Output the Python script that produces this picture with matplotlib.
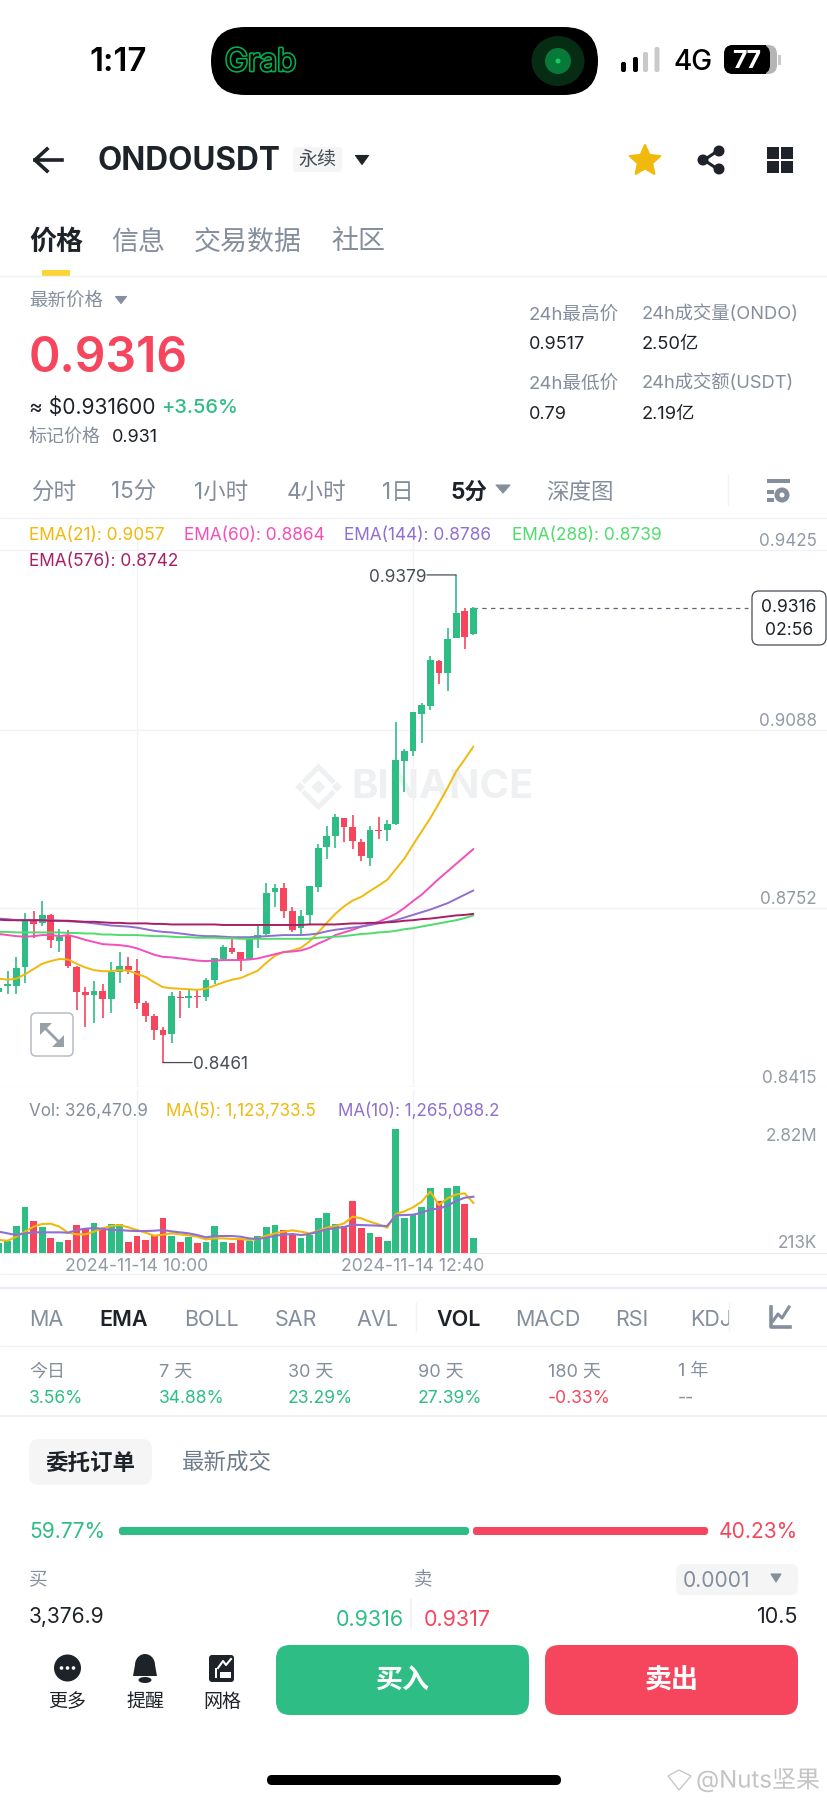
import numpy as np
import matplotlib
matplotlib.use("Agg")
import matplotlib.pyplot as plt
import matplotlib.patheffects as pe
from matplotlib.patches import FancyBboxPatch, Polygon, Circle, Ellipse, Rectangle

plt.rcParams['font.family'] = ['Inter', 'Noto Sans CJK SC', 'DejaVu Sans']

# 5 minute candles, ONDOUSDT
opens = [.8593, .8606, .8606, .8641, .8729, .8723, .8739, .8690, .8702, .8641, .8593, .8588, .8595, .8580,
         .8632, .8642, .8633, .8574, .8548, .8522, .8514, .8585, .8583, .8587, .8585, .8616, .8656, .8677,
         .8669, .8655, .8695, .8703, .8783, .8790, .8746, .8714, .8738, .8791, .8866, .8887, .8921, .8904,
         .8877, .8847, .8899, .8899, .8911, .9029, .9048, .9118, .9133, .9217, .9194, .9260, .9311, .9267]
highs = [.8608, .8634, .8659, .8743, .8746, .8765, .8741, .8712, .8711, .8642, .8603, .8614, .8608, .8650,
         .8669, .8660, .8656, .8577, .8553, .8528, .8593, .8595, .8597, .8597, .8620, .8658, .8683, .8697,
         .8669, .8697, .8718, .8799, .8798, .8799, .8754, .8749, .8794, .8872, .8907, .8929, .8921, .8927,
         .8882, .8906, .8923, .8918, .9102, .9052, .9121, .9138, .9227, .9219, .9279, .9379, .9316, .9318]
lows = [.8567, .8591, .8591, .8610, .8696, .8719, .8677, .8670, .8639, .8560, .8528, .8536, .8544, .8555,
        .8611, .8628, .8561, .8537, .8504, .8461, .8498, .8545, .8563, .8563, .8577, .8608, .8654, .8666,
        .8633, .8654, .8676, .8702, .8754, .8733, .8706, .8700, .8721, .8782, .8845, .8865, .8876, .8863,
        .8840, .8831, .8882, .8879, .8909, .8971, .9039, .9062, .9124, .9174, .9160, .9260, .9240, .9265]
closes = [.8602, .8609, .8639, .8729, .8721, .8739, .8692, .8697, .8642, .8593, .8588, .8595, .8580, .8632,
          .8642, .8636, .8573, .8548, .8523, .8512, .8586, .8582, .8587, .8585, .8616, .8657, .8678, .8669,
          .8655, .8697, .8701, .8780, .8790, .8747, .8711, .8736, .8794, .8865, .8887, .8923, .8904, .8879,
          .8850, .8899, .8897, .8911, .9031, .9047, .9121, .9135, .9218, .9194, .9258, .9308, .9263, .9316]

ema21 = [.8619, .8617, .8619, .8627, .8637, .8647, .8652, .8656, .8655, .8647, .8640, .8635, .8633, .8633,
         .8635, .8634, .8628, .8622, .8612, .8603, .8601, .8600, .8599, .8598, .8600, .8606, .8612, .8617,
         .8620, .8627, .8634, .8649, .8662, .8669, .8672, .8677, .8689, .8706, .8724, .8741, .8755, .8766,
         .8773, .8784, .8794, .8805, .8825, .8845, .8871, .8896, .8921, .8949, .8978, .9009, .9032, .9056]
ema60 = [.8703, .8701, .8699, .8698, .8699, .8701, .8701, .8699, .8701, .8697, .8692, .8688, .8684, .8683,
         .8682, .8680, .8676, .8670, .8664, .8660, .8659, .8657, .8655, .8653, .8652, .8653, .8654, .8654,
         .8654, .8655, .8657, .8661, .8665, .8669, .8670, .8672, .8677, .8685, .8692, .8701, .8706, .8711,
         .8717, .8721, .8726, .8733, .8741, .8752, .8765, .8777, .8792, .8807, .8821, .8835, .8849, .8863]
ema144 = [.8732, .8731, .8729, .8729, .8729, .8729, .8729, .8728, .8727, .8726, .8725, .8723, .8721, .8719,
          .8718, .8717, .8715, .8712, .8709, .8707, .8706, .8704, .8702, .8700, .8699, .8699, .8698, .8697,
          .8697, .8697, .8698, .8699, .8700, .8701, .8701, .8701, .8702, .8704, .8708, .8711, .8713, .8715,
          .8717, .8720, .8723, .8726, .8729, .8734, .8739, .8744, .8749, .8755, .8761, .8769, .8777, .8785]
ema288 = [.8707, .8707, .8706, .8706, .8706, .8706, .8706, .8706, .8705, .8705, .8704, .8704, .8702, .8702,
          .8701, .8701, .8701, .8700, .8699, .8699, .8698, .8697, .8697, .8696, .8696, .8696, .8695, .8695,
          .8694, .8694, .8694, .8694, .8694, .8694, .8694, .8694, .8694, .8696, .8697, .8698, .8699, .8701,
          .8703, .8704, .8706, .8707, .8709, .8712, .8714, .8717, .8720, .8723, .8726, .8729, .8733, .8738]
ema576 = [.8730, .8729, .8729, .8729, .8729, .8729, .8728, .8728, .8728, .8727, .8726, .8726, .8725, .8724,
          .8724, .8723, .8723, .8723, .8722, .8722, .8721, .8721, .8721, .8721, .8721, .8721, .8720, .8720,
          .8720, .8720, .8720, .8720, .8720, .8720, .8720, .8720, .8721, .8721, .8721, .8721, .8722, .8723,
          .8723, .8724, .8724, .8725, .8726, .8728, .8729, .8731, .8732, .8734, .8736, .8738, .8739, .8741]

# volume in thousands
volume = [211, 264, 603, 1040, 716, 573, 324, 234, 286, 625, 550, 663, 550, 648, 648, 234, 384, 279, 392, 776,
          377, 249, 362, 211, 234, 603, 241, 226, 309, 264, 377, 573, 625, 512, 422, 339, 392, 776, 889, 648,
          603, 1168, 565, 444, 347, 256, 2787, 783, 851, 1040, 1469, 1160, 1469, 1514, 1100, 326]
vol_ma5 = [286, 271, 362, 475, 588, 648, 655, 588, 452, 414, 414, 475, 550, 603, 625, 573, 512, 452, 384, 407,
           437, 414, 392, 362, 301, 324, 324, 309, 309, 286, 309, 384, 437, 475, 505, 475, 437, 490, 565, 603,
           663, 814, 776, 701, 640, 565, 874, 934, 1025, 1153, 1379, 1077, 1228, 1318, 1341, 1124]
vol_ma10 = [475, 437, 399, 437, 460, 460, 460, 460, 452, 512, 542, 557, 542, 512, 512, 497, 490, 490, 497, 512,
            482, 460, 437, 399, 347, 377, 377, 377, 362, 324, 309, 339, 384, 407, 422, 399, 422, 475, 527, 557,
            580, 633, 625, 618, 610, 603, 844, 851, 859, 904, 979, 994, 1062, 1168, 1243, 1265]

price_ticks = [0.9425, 0.9088, 0.8752, 0.8415]
time_ticks = [16, 48]
time_labels = ["2024-11-14 10:00", "2024-11-14 12:40"]
vol_ticks = [2820, 213]
vol_tick_labels = ["2.82M", "213K"]

tabs = ["价格", "信息", "交易数据", "社区"]
intervals = ["分时", "15分", "1小时", "4小时", "1日", "5分", "深度图"]
indicators = ["MA", "EMA", "BOLL", "SAR", "AVL", "VOL", "MACD", "RSI", "KDJ"]
periods = ["今日", "7 天", "30 天", "90 天", "180 天", "1 年"]
period_changes = ["3.56%", "34.88%", "23.29%", "27.39%", "-0.33%", "--"]

GREEN = "#2ebd85"
RED = "#f6465d"
DARK = "#1e2329"
GRAY = "#848e9c"
GRID = "#f1f2f5"
MARK = "#eef0f1"
C21, C60, C144, C288, C576 = "#f0b90b", "#f24fbd", "#8f6fd1", "#4fdc6c", "#a81f66"

W, H = 828, 1800
fig = plt.figure(figsize=(W / 100, H / 100), dpi=100)


def page_axes(z):
    a = fig.add_axes([0, 0, 1, 1], zorder=z)
    a.set_xlim(0, W)
    a.set_ylim(H, 0)
    a.axis("off")
    return a


# full page axes in pixel coordinates: one under the chart for the watermark, one on top for the app chrome
bg = page_axes(0)
ui = page_axes(3)


def txt(x, y, s, px, color=DARK, ha="left", weight="normal", **kw):
    # va=center sits high for these fonts, nudge by a tenth of the size
    return ui.text(x - 1 if ha == "left" else x, y + px * 0.09, s, fontsize=px * 0.72, color=color, ha=ha,
                   va="center", weight=weight, **kw)


def rbox(x0, y0, x1, y1, r, fc, ec="none", lw=0, z=1):
    ui.add_patch(FancyBboxPatch((x0 + r, y0 + r), x1 - x0 - 2 * r, y1 - y0 - 2 * r,
                                boxstyle=f"round,pad={r},rounding_size={r}", fc=fc, ec=ec, lw=lw, zorder=z))


def tri(x, y, w, h, color):
    ui.add_patch(Polygon([[x - w / 2, y - h / 2], [x + w / 2, y - h / 2], [x, y + h / 2]], fc=color, ec=color,
                         lw=0.8, joinstyle="round"))


def hline(y, x0=0, x1=W, color=GRID, lw=1.0):
    ui.plot([x0, x1], [y, y], color=color, lw=lw, solid_capstyle="butt")


def diamond(cx, cy, r, fc, z=1):
    bg.add_patch(Polygon([[cx - r, cy], [cx, cy - r], [cx + r, cy], [cx, cy + r]], fc=fc, zorder=z))


# status bar
txt(118, 60, "1:17", 33, "#000000", ha="center", weight="semibold")
rbox(211, 27, 598, 95, 34, "#000000")
txt(226, 60, "Grab", 31, "#000000", path_effects=[pe.withStroke(linewidth=2.3, foreground="#00b14f")], zorder=3)
ui.add_patch(Ellipse((558, 61), 53, 50, fc="#062c14", zorder=2))
ui.add_patch(Circle((558, 61), 13, fc="#077a3a", zorder=3))
ui.add_patch(Circle((558, 61), 2.5, fc="#17c964", zorder=4))
for bx, top, col in [(623.5, 62, "#000000"), (635.5, 57, "#000000"), (645.5, 52, "#c9c9c9"), (657, 47, "#c9c9c9")]:
    rbox(bx - 2.5, top, bx + 2.5, 72, 2, col)
txt(693, 60, "4G", 28, "#000000", ha="center", weight="medium")
rbox(724, 45, 777, 74, 9, "#b5b5b5")
rbox(724, 45, 770, 74, 9, "#000000")
ui.add_patch(Rectangle((762, 45), 4, 29, fc="#000000", zorder=1))
txt(747, 59, "77", 25, "#ffffff", ha="center", weight="bold", zorder=3)
ui.add_patch(Rectangle((778, 55), 3, 10, fc="#c8c8c8"))

# title row
ui.plot([35, 62], [160, 160], color=DARK, lw=2.6)
ui.plot([47, 35, 47], [149, 160, 171], color=DARK, lw=2.6)
txt(99, 159, "ONDOUSDT", 31.5, "#1e2329", weight="bold")
rbox(293, 147, 342, 172, 3, "#f5f5f5")
txt(317.5, 158, "永续", 19, "#474d57", ha="center", zorder=3)
tri(362, 160, 13, 9, DARK)
ang = np.linspace(-np.pi / 2, 1.5 * np.pi, 11)[:-1]
rad = np.where(np.arange(10) % 2 == 0, 16, 7.5)
ui.add_patch(Polygon(np.c_[645 + rad * np.cos(ang), 161 + rad * np.sin(ang)], fc="#f0b90b", ec="#f0b90b", lw=1.5,
                     joinstyle="round"))
ui.plot([719, 704, 719], [150, 160, 170], color=DARK, lw=2.2)
for cx, cy in [(719, 151), (703, 160), (719, 169)]:
    ui.add_patch(Circle((cx, cy), 5.5, fc=DARK))
for gx, gy in [(767, 147), (781, 147), (767, 161), (781, 161)]:
    ui.add_patch(Rectangle((gx, gy), 12, 12, fc=DARK))

# tabs
for label, x, col, w in zip(tabs, [30, 112, 195, 332], [DARK, GRAY, GRAY, GRAY], ["bold", "normal", "normal", "normal"]):
    txt(x, 240, label, 27, col, weight=w)
ui.add_patch(Rectangle((42, 270), 28, 6, fc="#fcd535", zorder=2))
hline(276)

# price block
txt(30, 300, "最新价格", 18.5, GRAY)
tri(121, 300, 11, 7, GRAY)
txt(30, 355, "0.9316", 48, RED, weight="semibold")
txt(30, 406, "≈ $0.931600", 21, DARK)
txt(162, 406, "+3.56%", 20, GREEN, weight="medium")
txt(30, 436, "标记价格", 18, GRAY)
txt(113, 436, "0.931", 18, DARK)
txt(530, 313, "24h最高价", 18.6, GRAY)
txt(643, 313, "24h成交量(ONDO)", 18.3, GRAY)
txt(530, 343, "0.9517", 18, DARK)
txt(643, 343, "2.50亿", 18.3, DARK)
txt(530, 382, "24h最低价", 18.6, GRAY)
txt(643, 382, "24h成交额(USDT)", 18.3, GRAY)
txt(530, 413, "0.79", 18, DARK)
txt(643, 413, "2.19亿", 18.3, DARK)

# interval row
for label, x in zip(intervals, [32, 112, 195, 288, 383, 452, 547]):
    active = label == "5分"
    txt(x, 491, label, 22.5, DARK if active else GRAY, weight="bold" if active else "normal")
tri(503, 489, 14, 8, GRAY)
ui.plot([728, 728], [475, 505], color=GRID, lw=1)
ui.add_patch(Rectangle((767, 479), 23, 3.5, fc=GRAY))
ui.add_patch(Rectangle((767, 490), 7, 3.5, fc=GRAY))
ui.add_patch(Rectangle((767, 498), 7, 3.5, fc=GRAY))
ui.add_patch(Circle((782, 495), 7.5, fc=GRAY))
ui.add_patch(Circle((782, 495), 2.5, fc="#ffffff", zorder=2))
hline(518)

# legends
txt(30, 534, "EMA(21): 0.9057", 17.3, C21)
txt(185, 534, "EMA(60): 0.8864", 17.3, C60)
txt(345, 534, "EMA(144): 0.8786", 17.3, C144)
txt(513, 534, "EMA(288): 0.8739", 17.3, C288)
txt(30, 560, "EMA(576): 0.8742", 17.3, C576)
txt(30, 1110, "Vol: 326,470.9", 17, GRAY)
txt(167, 1110, "MA(5): 1,123,733.5", 17, C21)
txt(339, 1110, "MA(10): 1,265,088.2", 17, C144)

# BINANCE watermark, under the candles
diamond(318.5, 787, 23.5, MARK)
diamond(318.5, 787, 16.5, "#ffffff", 2)
diamond(318.5, 787, 7, MARK, 3)
diamond(300, 787, 7.5, "#ffffff", 2)
diamond(337, 787, 7.5, "#ffffff", 2)
diamond(300, 787, 5, MARK, 3)
diamond(337, 787, 5, MARK, 3)
bg.text(351, 788, "BINANCE", fontsize=40 * 0.72, color=MARK, weight="bold", va="center")

# price pane: x axis is candle index, 8.625 px per candle, last candle at x=473.4
xlim = (55 - 473.4 / 8.625, 55 + (W - 473.4) / 8.625)
idx = np.arange(len(closes))
up = np.array(closes) >= np.array(opens)
cols = [GREEN if u else RED for u in up]

ax = fig.add_axes([0, (H - 1087) / H, 1, (1087 - 518) / H], zorder=2)
ax.patch.set_alpha(0)
ax.set_xlim(*xlim)
ax.set_ylim(0.8415, 0.8415 + 569 / 5312)
ax.vlines(idx, lows, highs, colors=cols, lw=1.2, zorder=3)
body_low = np.minimum(opens, closes)
body_h = np.maximum(np.abs(np.array(closes) - np.array(opens)), 0.0002)
ax.bar(idx, body_h, bottom=body_low, width=0.78, color=cols, zorder=3)
for series, col in zip([ema21, ema60, ema144, ema288, ema576], [C21, C60, C144, C288, C576]):
    ax.plot(idx, series, color=col, lw=1.4, zorder=4, solid_capstyle="round")
# dashed last price runs to the box at the right
ax.plot([55, xlim[1] - 9.3], [closes[-1], closes[-1]], color="#5e6673", lw=0.9, dashes=(3.5, 3.5), zorder=2)
conn = dict(arrowstyle="-", color="#474d57", lw=0.9, shrinkA=0, shrinkB=0)
ax.annotate("", xy=(53, highs[53]), xytext=(-21, 0), textcoords="offset points", arrowprops=conn)
ax.annotate("", xy=(19, lows[19]), xytext=(21, 0), textcoords="offset points", arrowprops=conn)
ax.annotate("0.9379", xy=(53, highs[53]), xytext=(-21.5, -1.5), textcoords="offset points", ha="right", va="center",
            fontsize=12.4, color="#474d57")
ax.annotate("0.8461", xy=(19, lows[19]), xytext=(21.5, -1.5), textcoords="offset points", ha="left", va="center",
            fontsize=12.4, color="#474d57")
ax.set_yticks(price_ticks)
ax.set_yticklabels([f"{t:.4f}" for t in price_ticks])
ax.yaxis.tick_right()
ax.tick_params(axis="y", length=0, pad=-8, labelsize=12.3, labelcolor="#929aa5")
for lab in ax.get_yticklabels():
    lab.set_ha("right")
    lab.set_va("bottom")
ax.set_xticks(time_ticks)
ax.tick_params(axis="x", length=0, labelbottom=False)
ax.grid(True, color=GRID, lw=1.0)
ax.set_axisbelow(True)
for s in ax.spines.values():
    s.set_visible(False)

# volume pane
vx = fig.add_axes([0, (H - 1252.7) / H, 1, 162.7 / H], zorder=2)
vx.patch.set_alpha(0)
vx.set_xlim(*xlim)
vx.set_ylim(0, 162.7 * 22.6)
vx.bar(idx, volume, width=0.78, color=cols, zorder=3)
vx.plot(idx, vol_ma5, color=C21, lw=1.5, zorder=4)
vx.plot(idx, vol_ma10, color=C144, lw=1.5, zorder=5)
vx.set_yticks(vol_ticks)
vx.set_yticklabels(vol_tick_labels)
vx.yaxis.tick_right()
vx.tick_params(axis="y", length=0, pad=-8, labelsize=12.3, labelcolor="#929aa5")
for lab, va in zip(vx.get_yticklabels(), ["top", "center"]):
    lab.set_ha("right")
    lab.set_va(va)
vx.set_xticks(time_ticks)
vx.set_xticklabels(time_labels)
vx.tick_params(axis="x", length=0, pad=3.5, labelsize=12.7, labelcolor="#929aa5")
vx.grid(True, axis="x", color=GRID, lw=1.0)
vx.set_axisbelow(True)
for name, s in vx.spines.items():
    s.set_visible(name == "bottom")
vx.spines["bottom"].set_color("#e9eaf2")

# current price box
rbox(752, 591, 826, 645, 7, "#ffffff", ec="#474d57", lw=0.9, z=6)
txt(789, 606, "0.9316", 17.5, DARK, ha="center", zorder=7)
txt(789, 629, "02:56", 17.5, DARK, ha="center", zorder=7)

# expand button
rbox(31, 1013, 73, 1056, 5, "#ffffff", ec="#b7bdc6", lw=1.1, z=6)
ui.plot([42, 62], [1025, 1045], color="#9aa0aa", lw=2.0, zorder=7)
ui.add_patch(Polygon([[40, 1023], [52, 1023], [40, 1035]], fc="#9aa0aa", zorder=7))
ui.add_patch(Polygon([[64, 1047], [52, 1047], [64, 1035]], fc="#9aa0aa", zorder=7))

# lower panels
hline(1274)
hline(1288, color="#ecedf4", lw=1.4)
for label, x in zip(indicators, [30, 100, 185, 276, 357, 437, 516, 616, 691]):
    active = label in ("EMA", "VOL")
    txt(x, 1318, label, 21.5, DARK if active else GRAY, weight="semibold" if active else "normal")
ui.add_patch(Rectangle((729, 1300), 30, 40, fc="#ffffff", zorder=5))
ui.plot([416, 416], [1303, 1331], color=GRID, lw=1)
ui.plot([729, 729], [1303, 1331], color=GRID, lw=1, zorder=6)
ui.plot([771, 771, 790], [1307, 1327, 1327], color=GRAY, lw=2.6, zorder=6)
ui.plot([773, 778, 782, 789], [1321, 1314, 1318, 1307], color=GRAY, lw=2.2, zorder=6)
hline(1346)
for label, val, x in zip(periods, period_changes, [30, 160, 289, 419, 549, 679]):
    txt(x, 1370, label, 18, GRAY)
    vc = RED if val.startswith("-") and val != "--" else (GRAY if val == "--" else GREEN)
    txt(x, 1397, val, 17.5, vc)
hline(1416, color="#ecedf4", lw=1.2)

rbox(29, 1439, 152, 1485, 10, "#f5f5f5")
txt(90.5, 1462, "委托订单", 22.5, DARK, ha="center", weight="bold", zorder=3)
txt(183, 1462, "最新成交", 22.5, "#707a8a")

txt(30, 1530, "59.77%", 21, GREEN)
rbox(119, 1527, 469, 1535, 3, GREEN)
rbox(473, 1527, 708, 1535, 3, RED)
txt(798, 1530, "40.23%", 21, RED, ha="right")
txt(30, 1579, "买", 18.5, GRAY)
txt(415, 1579, "卖", 18.5, GRAY)
rbox(676, 1564, 798, 1595, 7, "#f5f5f5")
txt(684, 1579, "0.0001", 21, GRAY, zorder=3)
tri(776, 1578, 10, 8, GRAY)
txt(30, 1615, "3,376.9", 21, DARK)
txt(798, 1615, "10.5", 21.5, DARK, ha="right")
txt(404, 1618, "0.9316", 21.5, GREEN, ha="right")
txt(425, 1618, "0.9317", 21.5, RED)
ui.plot([411, 411], [1600, 1627], color=GRID, lw=1.5)

# bottom actions
ui.add_patch(Circle((67.5, 1668), 13.5, fc=DARK))
for dx in (-6, 0, 6):
    ui.add_patch(Circle((67.5 + dx, 1668), 1.8, fc="#ffffff", zorder=3))
ui.add_patch(Ellipse((145, 1665), 20, 22, fc=DARK))
ui.add_patch(Polygon([[135, 1665], [155, 1665], [157, 1676], [133, 1676]], fc=DARK))
ui.add_patch(Ellipse((145, 1680), 13, 6, fc=DARK))
rbox(209, 1655, 234, 1682, 3, DARK)
ui.add_patch(Rectangle((215, 1668), 2, 10, fc="#ffffff", zorder=3))
ui.add_patch(Rectangle((220, 1672), 11, 6, fc="#ffffff", zorder=3))
ui.plot([218, 223, 226, 231], [1668, 1661, 1665, 1659], color="#ffffff", lw=1.5, zorder=3)
txt(67.5, 1700, "更多", 19, DARK, ha="center")
txt(145, 1700, "提醒", 19, DARK, ha="center")
txt(222, 1700, "网格", 19, DARK, ha="center")
rbox(276, 1645, 529, 1715, 14, GREEN)
rbox(545, 1645, 798, 1715, 14, RED)
txt(402.5, 1679, "买入", 27, "#ffffff", ha="center", weight="bold", zorder=3)
txt(671.5, 1679, "卖出", 27, "#ffffff", ha="center", weight="bold", zorder=3)

# home bar and image watermark
rbox(267, 1775, 561, 1785, 5, "#000000")
ui.add_patch(Polygon([[668, 1776], [679, 1770], [691, 1776], [679, 1790]], fc="none", ec="#c9c9c9", lw=1.0))
txt(697, 1778, "@Nuts坚果", 24, "#c4c4c4", path_effects=[pe.withStroke(linewidth=1.2, foreground="#ffffff")])

fig.savefig("out.png", dpi=100, facecolor="white")
